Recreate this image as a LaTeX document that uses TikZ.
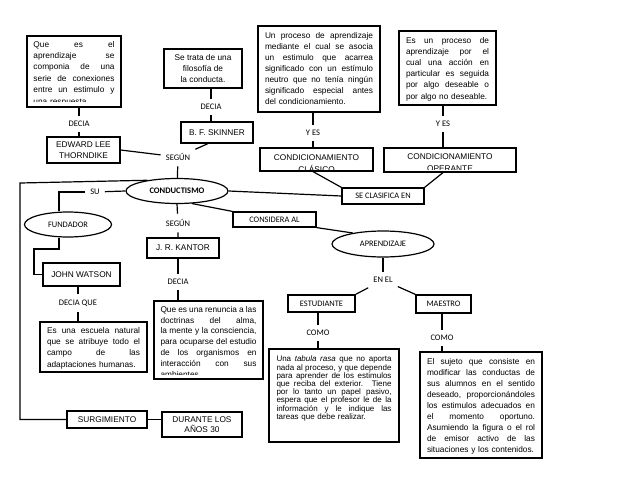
\documentclass[tikz,border=0pt]{standalone}
\usepackage{fontspec}
\setmainfont{Liberation Sans}
\newfontfamily\carlfont{Carlito}
\usetikzlibrary{shapes.geometric}
\newcommand\jl[1]{\makebox[\hsize][s]{\spaceskip=0pt\xspaceskip=0pt #1}\\}
\tikzset{
  ln/.style={line width=1.2pt},
  bx/.style={draw, line width=1.2pt, fill=white, inner sep=0pt, align=center,
    font=\fontsize{8.3}{10.5}\selectfont},
  cbx/.style={bx, font=\carlfont\fontsize{8.4}{10}\selectfont},
  lb/.style={inner xsep=5pt, inner ysep=5.5pt, font=\carlfont\fontsize{8.5}{10}\selectfont},
  el/.style={ellipse, draw, line width=1.2pt, fill=white, inner sep=0pt,
    font=\carlfont\fontsize{8.4}{10}\selectfont},
  tx/.style={shape=rectangle, draw=none, fill=none, minimum width=0pt, minimum height=0pt,
    anchor=north, inner sep=0pt, align=left, font=\fontsize{8.3}{11.2}\selectfont},
  tc/.style={tx, align=center},
}
\begin{document}
\begin{tikzpicture}[x=1pt,y=-1pt]
\useasboundingbox[fill=white] (0,0) rectangle (638,493);

% ---------- Thorndike branch
\node[bx, minimum width=94, minimum height=71,
  path picture={\clip ([yshift=5.5pt]path picture bounding box.south west) rectangle (path picture bounding box.north east);
   \node[tx, text width=81, font=\fontsize{8.3}{11.4}\selectfont] at ([yshift=-4.5pt]path picture bounding box.north)
   {\jl{Que es el}\jl{aprendizaje se}\jl{componia de una}\jl{serie de conexiones}\jl{entre un estimulo y}una respuesta};}]
  (thtext) at (74,71.5) {};
\node[lb] (decia1) at (79,124) {DECIA};
\node[bx, minimum width=73, minimum height=26] (edward) at (83.5,150) {EDWARD LEE\\THORNDIKE};
\node[lb] (segun1) at (178,157) {SEGÚN};

% ---------- Skinner branch
\node[bx, minimum width=78, minimum height=39, font=\fontsize{8.3}{11}\selectfont]
  (sktext) at (203,68.5) {Se trata de una\\filosofía de\\la conducta.};
\node[lb] (decia2) at (211,107) {DECIA};
\node[bx, minimum width=72, minimum height=21] (skinner) at (217,132.5) {B. F. SKINNER};

% ---------- centre
\node[el, minimum width=102, minimum height=25, font=\carlfont\bfseries\fontsize{8.5}{10}\selectfont]
  (conduct) at (177,191) {CONDUCTISMO};
\node[lb] (su) at (95,192) {SU};
\node[el, minimum width=87, minimum height=25] (fund) at (68,224.5) {FUNDADOR};
\node[bx, minimum width=77, minimum height=23] (watson) at (81.5,274.5) {JOHN WATSON};
\node[lb] (deciaque) at (78,303) {DECIA QUE};
\node[bx, minimum width=107, minimum height=50,
  path picture={\node[tx, text width=93, font=\fontsize{8.3}{11.4}\selectfont] at ([yshift=-4.5pt]path picture bounding box.north)
   {\jl{Es una escuela natural}\jl{que se atribuye todo el}\jl{campo de las}adaptaciones humanas.};}]
  (wtext) at (93.5,347) {};
\node[bx, minimum width=80, minimum height=17] (surg) at (107,419.5) {SURGIMIENTO};
\node[bx, minimum width=80, minimum height=25] (durante) at (202,424.5) {DURANTE LOS\\AÑOS 30};

% ---------- Kantor
\node[lb] (segun2) at (178,223) {SEGÚN};
\node[bx, minimum width=72, minimum height=20] (kantor) at (183,248) {J. R. KANTOR};
\node[lb] (decia3) at (178,282) {DECIA};
\node[bx, minimum width=109, minimum height=78,
  path picture={\clip ([yshift=4.5pt]path picture bounding box.south west) rectangle (path picture bounding box.north east);
   \node[tx, text width=96, font=\fontsize{8.3}{10.9}\selectfont] at ([yshift=-4.5pt]path picture bounding box.north)
   {\jl{Que es una renuncia a las}\jl{doctrinas del alma,}\jl{la mente y la consciencia,}\jl{para ocuparse del estudio}\jl{de los organismos en}\jl{interacción con sus}ambientes};}]
  (ktext) at (208.5,340) {};

% ---------- conditioning
\node[cbx, minimum width=82, minimum height=16] (clasif) at (383,196) {SE CLASIFICA EN};
\node[bx, minimum width=113, minimum height=23,
  path picture={\clip ([yshift=2pt]path picture bounding box.south west) rectangle (path picture bounding box.north east);
   \node[tc, font=\fontsize{8.3}{11.5}\selectfont] at ([yshift=-6.3pt]path picture bounding box.north) {CONDICIONAMIENTO\\CLÁSICO};}]
  (clasico) at (316.5,159.5) {};
\node[bx, minimum width=132, minimum height=24,
  path picture={\clip ([yshift=2.5pt]path picture bounding box.south west) rectangle (path picture bounding box.north east);
   \node[tc, font=\fontsize{8.3}{11.5}\selectfont] at ([yshift=-5.5pt]path picture bounding box.north) {CONDICIONAMIENTO\\OPERANTE};}]
  (operante) at (450,160) {};
\node[lb] (yes1) at (313,133) {Y ES};
\node[bx, minimum width=122, minimum height=86,
  path picture={\node[tx, text width=108, font=\fontsize{8.3}{11.1}\selectfont] at ([yshift=-5.5pt]path picture bounding box.north)
   {\jl{Un proceso de aprendizaje}\jl{mediante el cual se asocia}\jl{un estimulo que acarrea}\jl{significado con un estímulo}\jl{neutro que no tenía ningún}\jl{significado especial antes}del condicionamiento.};}]
  (cltext) at (319,69) {};
\node[lb] (yes2) at (443,124) {Y ES};
\node[bx, minimum width=97, minimum height=74,
  path picture={\node[tx, text width=83] at ([yshift=-5.5pt]path picture bounding box.north)
   {\jl{Es un proceso de}\jl{aprendizaje por el}\jl{cual una acción en}\jl{particular es seguida}\jl{por algo deseable o}por algo no deseable.};}]
  (optext) at (447.5,68) {};

% ---------- learning
\node[cbx, minimum width=83, minimum height=15] (considera) at (274.5,219.5) {CONSIDERA AL};
\node[el, minimum width=102, minimum height=26] (aprend) at (383,244) {APRENDIZAJE};
\node[lb] (enel) at (383,280) {EN EL};
\node[cbx, minimum width=67, minimum height=17] (estud) at (321.5,303.5) {ESTUDIANTE};
\node[cbx, minimum width=55, minimum height=18] (maestro) at (443.5,304) {MAESTRO};
\node[lb] (como1) at (318,333) {COMO};
\node[bx, minimum width=130, minimum height=93,
  path picture={\node[tx, text width=115, font=\fontsize{8}{8.2}\selectfont] at ([yshift=-6.5pt]path picture bounding box.north)
   {\jl{Una \textit{tabula rasa} que no aporta}\jl{nada al proceso, y que depende}\jl{para aprender de los estimulos}\jl{que reciba del exterior. Tiene}\jl{por lo tanto un papel pasivo,}\jl{espera que el profesor le de la}\jl{información y le indique las}tareas que debe realizar.};}]
  (etext) at (334,395.5) {};
\node[lb] (como2) at (442,338) {COMO};
\node[bx, minimum width=122, minimum height=106,
  path picture={\node[tx, text width=108, font=\fontsize{8.3}{11}\selectfont] at ([yshift=-6pt]path picture bounding box.north)
   {\jl{El sujeto que consiste en}\jl{modificar las conductas de}\jl{sus alumnos en el sentido}\jl{deseado, proporcionándoles}\jl{los estimulos adecuados en}\jl{el momento oportuno.}\jl{Asumiendo la figura o el rol}\jl{de emisor activo de las}situaciones y los contenidos.};}]
  (mtext) at (481,405) {};

% ---------- helper coordinates
\coordinate (fr1) at (20,183);
\coordinate (fb) at (59,249);
\coordinate (fc) at (34,249);

% ---------- connectors
\draw[ln] (thtext.south -| decia1) -- (decia1) -- (decia1 |- edward.north);
\draw[ln] (edward.east) -- (segun1);
\draw[ln] (segun1) -- ([xshift=-9pt]skinner.south);
\draw[ln] (sktext.south -| decia2) -- (decia2) -- (decia2 |- skinner.north);
\draw[ln] (segun1) -- (conduct);
\draw[ln] (conduct.160) -- (fr1) |- (surg.west);
\draw[ln] (conduct.west) -- (su);
\draw[ln] (su) -| (fb |- fund.north);
\draw[ln] (fb |- fund.south) -- (fb) -- (fc) |- (watson.west);
\draw[ln] (watson.south -| deciaque) -- (deciaque) -- (deciaque |- wtext.north);
\draw[ln] (surg.east) -- (surg.east -| durante.west);
\draw[ln] (conduct.south) -- (segun2) -- (segun2 |- kantor.north);
\draw[ln] (kantor.south -| decia3) -- (decia3) -- (decia3 |- ktext.north);
\draw[ln] (conduct.east) -- (clasif.west);
\draw[ln] (yes1 |- clasico.south) -- (clasif.north west);
\draw[ln] (yes2 |- operante.south) -- (clasif.north east);
\draw[ln] (cltext.south -| yes1) -- (yes1) -- (yes1 |- clasico.north);
\draw[ln] (optext.south -| yes2) -- (yes2) -- (yes2 |- operante.north);
\draw[ln] (conduct.-40) -- (considera.north west);
\draw[ln] (considera.south east) -- (aprend.160);
\draw[ln] (aprend) -- (enel);
\draw[ln] (enel) -- (estud.north east);
\draw[ln] (enel) -- (maestro.north west);
\draw[ln] (estud.south -| como1) -- (como1) -- (como1 |- etext.north);
\draw[ln] (maestro.south -| como2) -- (como2) -- (como2 |- mtext.north);
\end{tikzpicture}
\end{document}
